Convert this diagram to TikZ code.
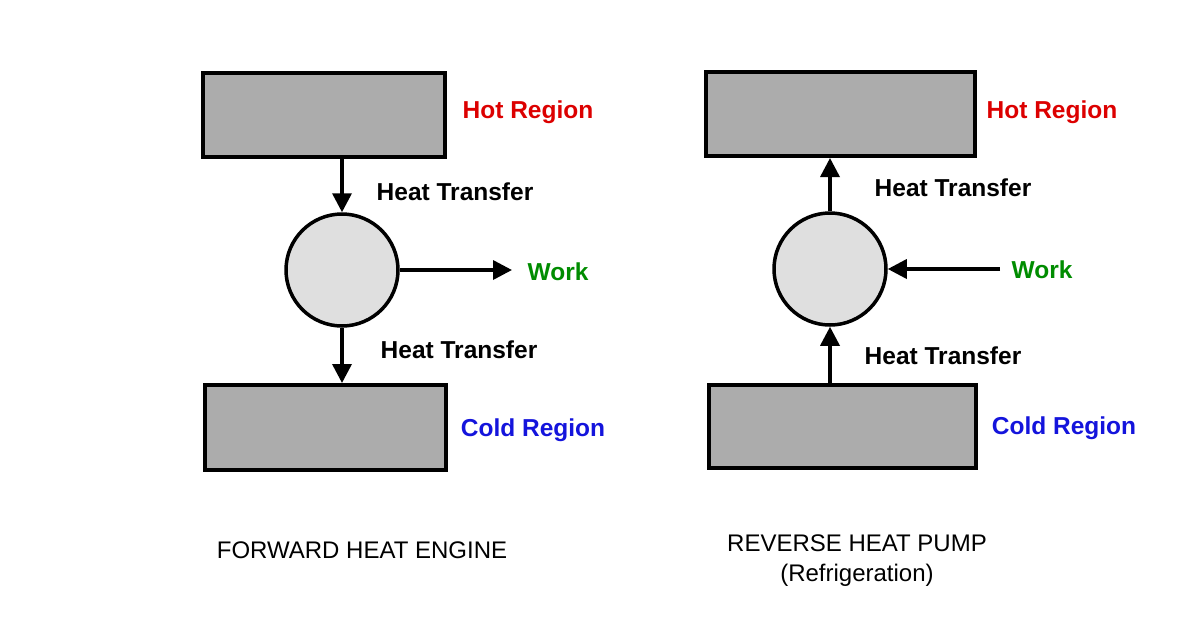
\documentclass[tikz,border=0pt]{standalone}
\usepackage{fontspec}
\setmainfont{Liberation Sans}
\usetikzlibrary{arrows.meta}
\definecolor{hotred}{RGB}{220,0,0}
\definecolor{workgreen}{RGB}{0,140,0}
\definecolor{coldblue}{RGB}{20,20,220}
\begin{document}
\begin{tikzpicture}[x=1pt,y=-1pt,
  region/.style={draw=black,line width=4pt,fill=gray!65,inner sep=0pt},
  engine/.style={circle,draw=black,line width=3.5pt,fill=gray!25,inner sep=0pt,minimum size=112pt},
  flow/.style={line width=3.5pt,-{Triangle[length=19pt,width=19pt]}},
  lbl/.style={font=\bfseries\fontsize{24.5}{28}\selectfont},
  captext/.style={font=\fontsize{24}{30}\selectfont,align=center}]
\useasboundingbox (0,0) rectangle (1200,630);
% left
\node[region,minimum width=242pt,minimum height=84pt] (lh) at (324,115) {};
\node[engine] (lc) at (342,270) {};
\node[region,minimum width=241pt,minimum height=85pt] (lcold) at (325.5,427.5) {};
\coordinate (lw) at (512,270);
\draw[flow] (lh.south -| lc) -- (lc.north);
\draw[flow] (lc.south) -- (lcold.north -| lc);
\draw[flow] (lc.east) -- (lw);
\node[lbl,text=hotred] (t1) at (528,112) {Hot Region};
\node[lbl] (t2) at (455,192) {Heat Transfer};
\node[lbl,text=workgreen] (t3) at (558,272) {Work};
\node[lbl] (t4) at (459,350) {Heat Transfer};
\node[lbl,text=coldblue] (t5) at (533,430) {Cold Region};
\node[captext] (t6) at (362,550) {FORWARD HEAT ENGINE};
% right
\node[region,minimum width=269pt,minimum height=84pt] (rh) at (840.5,114) {};
\node[engine] (rc) at (830,269) {};
\node[region,minimum width=267pt,minimum height=83pt] (rcold) at (842.5,426.5) {};
\coordinate (rw) at (1000,269);
\draw[flow] (rc.north) -- (rh.south -| rc);
\draw[flow] (rcold.north -| rc) -- (rc.south);
\draw[flow] (rw) -- (rc.east);
\node[lbl,text=hotred] (u1) at (1052,112) {Hot Region};
\node[lbl] (u2) at (953,188) {Heat Transfer};
\node[lbl,text=workgreen] (u3) at (1042,270) {Work};
\node[lbl] (u4) at (943,356) {Heat Transfer};
\node[lbl,text=coldblue] (u5) at (1064,428) {Cold Region};
\node[captext] (u6) at (857,561) {REVERSE HEAT PUMP\\(Refrigeration)};
\end{tikzpicture}
\end{document}
